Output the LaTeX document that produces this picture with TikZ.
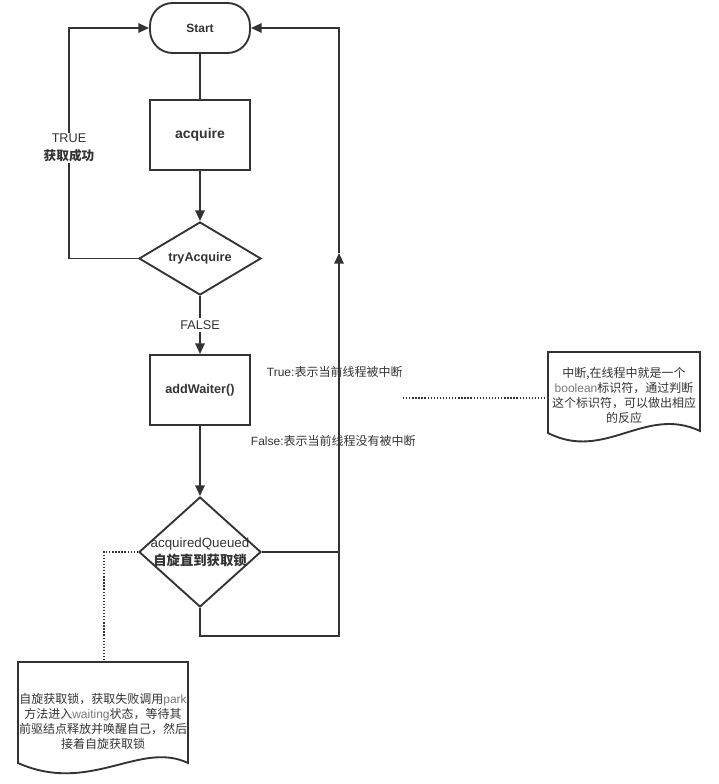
\documentclass[tikz,border=0pt]{standalone}
\usepackage{fontspec}
\setmainfont{Liberation Sans}
\newfontfamily\zhfont{Noto Sans CJK SC}
\newcommand{\zh}[1]{{\zhfont #1}}
\usetikzlibrary{arrows.meta}
\usetikzlibrary{shapes.geometric}
\definecolor{ink}{HTML}{333333}
\definecolor{soft}{HTML}{777777}

\begin{document}
\begin{tikzpicture}[x=0.75pt,y=-0.75pt,
	line width=1.4pt, draw=ink, text=ink,
	flow/.style={-{Triangle[length=8pt,width=7pt]}},
	note/.style={dash pattern=on 1pt off 1.3pt, line width=1pt},
	block/.style={draw, minimum width=75pt, minimum height=52.5pt, font=\bfseries\fontsize{9.5}{11}\selectfont},
	choice/.style={draw, diamond, inner sep=0pt, minimum width=91.5pt},
	remark/.style={font=\fontsize{9}{11.25}\selectfont, align=center, inner sep=0pt}]
	\useasboundingbox (0,0) rectangle (718,784);

	% main column
	\node[draw, rounded corners=17pt, minimum width=75pt, minimum height=37.5pt, font=\bfseries\fontsize{9}{11}\selectfont] (start) at (200,28) {Start};
	\node[block, font=\bfseries\fontsize{10.5}{12}\selectfont] (acquire) at (200,135) {acquire};
	\node[choice, minimum height=54.75pt, font=\bfseries\fontsize{9.5}{11}\selectfont] (try) at (200,258.5) {\makebox[0pt]{tryAcquire}};
	\node[block] (waiter) at (200,390) {addWaiter()};
	\node[choice, minimum height=82.5pt, font=\fontsize{10}{12.5}\selectfont] (queue) at (200,552) {\makebox[0pt]{\shortstack{acquiredQueued\\ \zh{\bfseries 自旋直到获取锁}}}};

	\coordinate (lefttop) at (69,28);
	\coordinate (rightmid) at (339,253);
	\coordinate (righttop) at (339,28);
	\coordinate (rightbot) at (339,636);
	\coordinate (dotstart) at (403,398);
	\coordinate (waitnotetop) at (104,662);

	\draw (start) -- (acquire);
	\draw[flow] (acquire) -- (try);
	\draw[flow] (try.west) -| (lefttop) node[pos=0.74, fill=white, align=center, inner sep=1pt, font=\fontsize{9.5}{13}\selectfont] {TRUE\\ \zh{\bfseries 获取成功}} -- (start.west);
	\draw[flow] (try) -- (waiter) node[midway, fill=white, inner sep=2pt, font=\fontsize{9.5}{11}\selectfont] {FALSE};
	\draw[flow] (waiter) -- (queue);

	% loop back to start
	\draw[flow] (queue.east) -| (rightmid);
	\draw[flow] (rightmid) -- (righttop) -- (start.east);
	\draw (queue.south) |- (rightbot) -- (queue.east -| rightbot);

	\node[anchor=west, inner sep=0pt, font=\fontsize{9}{11}\selectfont] (truelabel) at (266,372) {True:\zh{表示当前线程被中断}};
	\node[anchor=west, inner sep=0pt, font=\fontsize{9}{11}\selectfont] (falselabel) at (250,441) {False:\zh{表示当前线程没有被中断}};

	% notes
	\draw (548,352) -- (700,352) -- (700,431) .. controls (645,405) and (605,462) .. (548,433) -- cycle;
	\node[remark, minimum width=114pt] (intnote) at (624,395) {\zh{中断,在线程中就是一个}\\ \textcolor{soft}{boolean}\zh{标识符，通过判断}\\ \zh{这个标识符，可以做出相应}\\ \zh{的反应}};
	\draw[note] (dotstart) -- (dotstart -| intnote.west);

	\draw (18,662) -- (188,662) -- (188,763) .. controls (140,740) and (90,795) .. (18,763) -- cycle;
	\node[remark] (waitnote) at (103,721) {\zh{自旋获取锁，获取失败调用}\textcolor{soft}{park}\\ \zh{方法进入}\textcolor{soft}{waiting}\zh{状态，等待其}\\ \zh{前驱结点释放并唤醒自己，然后}\\ \zh{接着自旋获取锁}};
	\draw[note] (queue.west) -| (waitnotetop);
\end{tikzpicture}
\end{document}
